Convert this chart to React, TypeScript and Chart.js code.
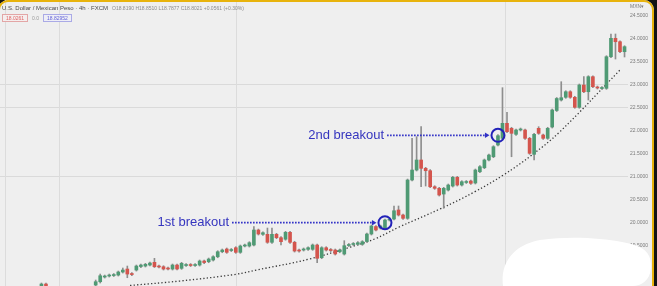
import React, { useEffect, useRef } from "react";
import { Chart, registerables } from "chart.js";

Chart.register(...registerables);

// Candle positions (4h bar index)
const CANDLE_X = [-12, -11, ...Array.from({ length: 118 }, (_, i) => i)];

const OPEN = [
  18.623, 18.667,
  18.645, 18.717, 18.819, 18.841, 18.851, 18.862, 18.928, 18.993, 18.895, 18.971,
  19.047, 19.058, 19.080, 19.139, 19.058, 19.043, 19.015, 18.993, 19.080, 19.008,
  19.069, 19.091, 19.069, 19.080, 19.167, 19.152, 19.189, 19.260, 19.369, 19.428,
  19.395, 19.456, 19.356, 19.493, 19.493, 19.515, 19.841, 19.747, 19.747, 19.574,
  19.747, 19.674, 19.641, 19.791, 19.574, 19.406, 19.406, 19.421, 19.421, 19.515,
  19.239, 19.456, 19.417, 19.406, 19.369, 19.319, 19.504, 19.526, 19.530, 19.530,
  19.591, 19.754, 19.917, 19.884, 19.884, 20.058, 20.080, 20.276, 20.167, 20.095,
  20.928, 21.145, 21.363, 21.182, 21.130, 20.782, 20.747, 20.623, 20.710, 20.797,
  20.986, 20.819, 20.874, 20.906, 20.863, 21.108, 21.195, 21.363, 21.434, 21.689,
  21.834, 22.160, 22.052, 21.921, 22.015, 22.015, 21.834, 21.486, 22.052, 21.906,
  21.834, 22.080, 22.439, 22.667, 22.726, 22.847, 22.726, 22.508, 22.993, 22.847,
  23.174, 22.950, 22.917, 22.921, 23.608, 24.008, 23.934, 23.717,
];

const HIGH = [
  18.689, 18.689,
  18.754, 18.884, 18.862, 18.884, 18.895, 18.949, 19.015, 19.058, 18.917, 19.080,
  19.102, 19.117, 19.145, 19.226, 19.080, 19.065, 19.037, 19.102, 19.102, 19.139,
  19.112, 19.112, 19.112, 19.189, 19.189, 19.232, 19.282, 19.391, 19.428, 19.450,
  19.439, 19.478, 19.515, 19.537, 19.587, 19.913, 19.862, 19.804, 19.884, 19.884,
  19.769, 19.696, 19.813, 19.813, 19.596, 19.428, 19.450, 19.478, 19.537, 19.537,
  19.478, 19.478, 19.439, 19.428, 19.428, 19.609, 19.548, 19.569, 19.587, 19.609,
  19.776, 19.949, 19.939, 19.949, 20.080, 20.102, 20.363, 20.363, 20.189, 20.949,
  21.834, 21.869, 22.087, 21.204, 21.152, 20.804, 20.769, 20.769, 20.841, 21.008,
  21.008, 20.913, 20.917, 20.928, 21.167, 21.239, 21.384, 21.493, 21.674, 21.913,
  22.935, 22.400, 22.074, 22.037, 22.058, 22.037, 21.856, 21.943, 22.087, 21.928,
  22.074, 22.471, 22.721, 23.065, 22.869, 22.869, 22.748, 23.015, 23.174, 23.195,
  23.195, 22.971, 22.961, 23.630, 24.102, 24.102, 23.956, 23.847,
];

const LOW = [
  18.602, 18.602,
  18.623, 18.689, 18.797, 18.819, 18.830, 18.841, 18.906, 18.804, 18.851, 18.949,
  19.025, 19.037, 19.058, 19.026, 19.015, 18.971, 18.971, 18.971, 18.971, 18.986,
  19.047, 19.047, 19.047, 19.058, 19.112, 19.130, 19.167, 19.238, 19.347, 19.334,
  19.373, 19.334, 19.334, 19.471, 19.471, 19.493, 19.732, 19.725, 19.552, 19.552,
  19.652, 19.515, 19.619, 19.552, 19.362, 19.362, 19.384, 19.399, 19.399, 19.130,
  19.217, 19.384, 19.373, 19.297, 19.347, 19.297, 19.482, 19.504, 19.508, 19.508,
  19.569, 19.732, 19.819, 19.862, 19.862, 20.037, 20.058, 20.145, 20.073, 20.073,
  20.906, 21.124, 20.782, 20.797, 20.760, 20.725, 20.580, 20.313, 20.689, 20.775,
  20.797, 20.797, 20.852, 20.834, 20.841, 21.087, 21.174, 21.341, 21.413, 21.667,
  21.812, 21.956, 21.434, 21.899, 21.993, 21.812, 21.486, 21.363, 21.921, 21.812,
  21.812, 22.058, 22.417, 22.645, 22.704, 22.704, 22.487, 22.487, 22.825, 22.667,
  22.934, 22.906, 22.895, 22.899, 23.586, 23.558, 23.695, 23.602,
];

const CLOSE = [
  18.667, 18.623,
  18.717, 18.847, 18.841, 18.862, 18.873, 18.928, 18.971, 18.884, 18.873, 19.058,
  19.080, 19.095, 19.123, 19.043, 19.037, 18.993, 18.993, 19.080, 18.993, 19.117,
  19.091, 19.069, 19.091, 19.167, 19.134, 19.210, 19.260, 19.369, 19.406, 19.356,
  19.417, 19.356, 19.493, 19.515, 19.565, 19.841, 19.754, 19.782, 19.574, 19.747,
  19.674, 19.587, 19.791, 19.574, 19.384, 19.384, 19.428, 19.456, 19.515, 19.226,
  19.456, 19.406, 19.395, 19.319, 19.406, 19.500, 19.526, 19.548, 19.565, 19.587,
  19.754, 19.928, 19.841, 19.928, 20.058, 20.080, 20.260, 20.167, 20.095, 20.928,
  21.145, 21.363, 21.182, 21.130, 20.782, 20.747, 20.602, 20.747, 20.819, 20.986,
  20.819, 20.891, 20.895, 20.856, 21.145, 21.217, 21.363, 21.471, 21.652, 21.891,
  22.160, 21.978, 21.943, 22.015, 22.037, 21.834, 21.508, 21.921, 21.943, 21.834,
  22.052, 22.450, 22.700, 22.717, 22.847, 22.726, 22.508, 22.993, 22.847, 23.174,
  22.956, 22.928, 22.939, 23.608, 24.008, 23.934, 23.717, 23.826,
];

// Dotted support curve
const TREND_X = [7.6, 18.6, 31, 35.6, 47, 56.6, 61.8, 66.9, 76.5, 83.9, 90.2, 96.5, 102.7, 116];
const TREND_Y = [18.635, 18.732, 18.878, 18.971, 19.204, 19.478, 19.65, 19.895, 20.313, 20.674, 21.037, 21.471, 21.978, 23.319];

const Y_TICKS = [19.0, 19.5, 20.0, 20.5, 21.0, 21.5, 22.0, 22.5, 23.0, 23.5, 24.0, 24.5];
const STRONG_GRID = [21.0, 22.5, 23.0];
const V_GRID = [-20.1, -8.1, 31, 90.6];

const BREAKOUT_LABELS = ["1st breakout", "2nd breakout"];
const BREAKOUT_CANDLE = [64, 89];
const BREAKOUT_PRICE = [20.0, 21.9];
const LABEL_END = [29.5, 63.8];

const X_MIN = -21.17;
const X_MAX = 117.77;
const Y_MIN = 18.624;
const Y_MAX = 24.841;

const GREEN = "#4f9a74";
const RED = "#d4554d";
const WICK = "#8e8e8e";

const vGridPlugin = {
  id: "vgrid",
  beforeDatasetsDraw(chart: any) {
    const { ctx, chartArea, scales } = chart;
    ctx.save();
    ctx.strokeStyle = "#dcdcdc";
    ctx.lineWidth = 1;
    V_GRID.forEach((v) => {
      const px = Math.round(scales.x.getPixelForValue(v)) + 0.5;
      ctx.beginPath();
      ctx.moveTo(px, chartArea.top);
      ctx.lineTo(px, chartArea.bottom);
      ctx.stroke();
    });
    ctx.restore();
  },
};

const breakoutPlugin = {
  id: "breakouts",
  afterDatasetsDraw(chart: any) {
    const { ctx, scales } = chart;
    const R = 6.5;
    BREAKOUT_LABELS.forEach((label, i) => {
      const cx = scales.x.getPixelForValue(BREAKOUT_CANDLE[i]);
      const cy = scales.y.getPixelForValue(BREAKOUT_PRICE[i]);
      const tx = scales.x.getPixelForValue(LABEL_END[i]);
      ctx.save();
      ctx.font = '13px "Liberation Sans", Arial, sans-serif';
      ctx.fillStyle = "#3535bf";
      ctx.textAlign = "right";
      ctx.textBaseline = "middle";
      ctx.fillText(label, tx, cy);
      const startX = tx + 3;
      const tipX = cx - R - 2;
      ctx.strokeStyle = "#3030c6";
      ctx.lineWidth = 1.8;
      ctx.setLineDash([1.6, 1.4]);
      ctx.beginPath();
      ctx.moveTo(startX, cy);
      ctx.lineTo(tipX - 3, cy);
      ctx.stroke();
      ctx.setLineDash([]);
      ctx.fillStyle = "#3030c6";
      ctx.beginPath();
      ctx.moveTo(tipX, cy);
      ctx.lineTo(tipX - 4.5, cy - 2.7);
      ctx.lineTo(tipX - 4.5, cy + 2.7);
      ctx.closePath();
      ctx.fill();
      ctx.strokeStyle = "#2222b8";
      ctx.lineWidth = 2;
      ctx.beginPath();
      ctx.arc(cx, cy, R, 0, Math.PI * 2);
      ctx.stroke();
      ctx.restore();
    });
  },
};

const unitPlugin = {
  id: "unit",
  afterDraw(chart: any) {
    const { ctx, chartArea } = chart;
    ctx.save();
    ctx.font = '5px "Liberation Sans", Arial, sans-serif';
    ctx.fillStyle = "#777";
    ctx.textBaseline = "middle";
    ctx.fillText("MXN▾", chartArea.right + 2, 7);
    ctx.restore();
  },
};

export default function App() {
  const canvasRef = useRef<HTMLCanvasElement | null>(null);

  useEffect(() => {
    if (!canvasRef.current) return;
    const colors = OPEN.map((o, i) => (CLOSE[i] >= o ? GREEN : RED));
    const chart = new Chart(canvasRef.current, {
      type: "bar",
      data: {
        datasets: [
          {
            type: "line",
            data: TREND_X.map((x, i) => ({ x, y: TREND_Y[i] })),
            borderColor: "#3a3a3a",
            borderWidth: 1.3,
            borderDash: [1.3, 2.2],
            pointRadius: 0,
            tension: 0.4,
            fill: false,
            order: 3,
          } as any,
          {
            type: "bar",
            data: CANDLE_X.map((x, i) => ({ x, y: [LOW[i], HIGH[i]] })),
            backgroundColor: WICK,
            barThickness: 1,
            grouped: false,
            order: 2,
          } as any,
          {
            type: "bar",
            data: CANDLE_X.map((x, i) => ({
              x,
              y: [Math.min(OPEN[i], CLOSE[i]), Math.max(OPEN[i], CLOSE[i])],
            })),
            backgroundColor: colors,
            barThickness: 3,
            minBarLength: 1,
            grouped: false,
            order: 1,
          } as any,
        ],
      },
      options: {
        animation: false,
        responsive: false,
        devicePixelRatio: 1,
        events: [],
        layout: { padding: 0 },
        plugins: {
          legend: { display: false },
          tooltip: { enabled: false },
          title: { display: false },
        },
        scales: {
          x: {
            type: "linear",
            display: false,
            min: X_MIN,
            max: X_MAX,
            offset: false,
          },
          y: {
            type: "linear",
            position: "right",
            min: Y_MIN,
            max: Y_MAX,
            border: { display: false },
            grid: {
              drawTicks: false,
              color: (ctx: any) =>
                ctx.tick && STRONG_GRID.includes(ctx.tick.value) ? "#dadada" : "rgba(0,0,0,0)",
            },
            ticks: {
              padding: 2,
              color: "#7a7a7a",
              font: { size: 5, family: '"Liberation Sans", Arial, sans-serif' },
              callback: (v: any) => Number(v).toFixed(4),
            },
            afterBuildTicks: (scale: any) => {
              scale.ticks = Y_TICKS.map((v) => ({ value: v }));
            },
            afterFit: (scale: any) => {
              scale.width = 29;
              scale.paddingTop = 0;
              scale.paddingBottom = 0;
            },
          } as any,
        },
      },
      plugins: [vGridPlugin, breakoutPlugin, unitPlugin],
    });
    return () => chart.destroy();
  }, []);

  const font = '"Liberation Sans", Arial, sans-serif';

  return (
    <div
      style={{
        position: "fixed",
        left: 0,
        top: 0,
        width: 657,
        height: 286,
        background: "#141414",
        overflow: "hidden",
      }}
    >
      <div
        style={{
          position: "absolute",
          left: -2,
          top: 0,
          width: 656,
          height: 330,
          background: "#efefef",
          borderRadius: 10,
        }}
      />
      <canvas
        ref={canvasRef}
        width={657}
        height={286}
        style={{ position: "absolute", left: 0, top: 0, width: 657, height: 286 }}
      />
      <svg
        width={657}
        height={286}
        style={{ position: "absolute", left: 0, top: 0 }}
      >
        <path
          d="M 503 286 C 500 262, 514 245, 540 240 C 570 236, 600 238, 622 242 C 640 245, 652 250, 651 268 C 650 280, 642 286, 632 286 Z"
          fill="#ffffff"
        />
      </svg>
      <div
        style={{
          position: "absolute",
          left: 2,
          top: 5,
          fontFamily: font,
          fontSize: 6,
          lineHeight: "7px",
          color: "#4a4a4a",
          whiteSpace: "nowrap",
        }}
      >
        U.S. Dollar / Mexican Peso · 4h · FXCM
        <span style={{ color: "#8c8c8c", fontSize: 5, marginLeft: 4 }}>
          O18.8190 H18.8510 L18.7877 C18.8021 +0.0561 (+0.30%)
        </span>
      </div>
      <div
        style={{
          position: "absolute",
          left: 2,
          top: 14,
          display: "flex",
          alignItems: "center",
          fontFamily: font,
          fontSize: 5,
          lineHeight: "6px",
          whiteSpace: "nowrap",
        }}
      >
        <span
          style={{
            border: "1px solid #e3a6a6",
            color: "#e06464",
            padding: "0px 3px",
            background: "#f5eeee",
          }}
        >
          18.0261
        </span>
        <span style={{ color: "#999", margin: "0 4px" }}>0.0</span>
        <span
          style={{
            border: "1px solid #aaaae6",
            color: "#6262d8",
            padding: "0px 3px",
            background: "#eeeef6",
          }}
        >
          18.82952
        </span>
      </div>
      <div
        style={{
          position: "absolute",
          left: -2,
          top: 0,
          width: 656,
          height: 330,
          border: "2px solid #e8b30c",
          borderRadius: 10,
          boxSizing: "border-box",
          pointerEvents: "none",
        }}
      />
    </div>
  );
}
